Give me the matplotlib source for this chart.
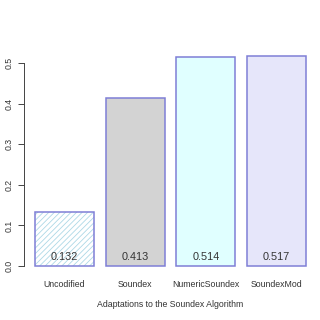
import matplotlib
matplotlib.use("Agg")
import matplotlib.pyplot as plt
import numpy as np

plt.rcParams['font.family'] = ['Liberation Sans', 'DejaVu Sans']
plt.rcParams['hatch.linewidth'] = 0.6

categories = ["Uncodified", "Soundex", "NumericSoundex", "SoundexMod"]
values = [0.132, 0.413, 0.514, 0.517]
labels = ["0.132", "0.413", "0.514", "0.517"]
fills = ["white", "#D3D3D3", "#E0FFFF", "#E6E6FA"]
hatches = ["//////", None, None, None]
yticks = [0.0, 0.1, 0.2, 0.3, 0.4, 0.5]
xlabel = "Adaptations to the Soundex Algorithm"

fig = plt.figure(figsize=(3.2, 3.2), dpi=100)
ax = fig.add_axes([0.0756, 0.1425, 0.9144, 0.7085])

x = 0.7 + 1.2 * np.arange(len(values))
edge = "#7F7FD6"
for xi, v, fc, h in zip(x, values, fills, hatches):
    if h:
        ax.bar(xi, v, width=1.0, color=fc, edgecolor="#ADD8E6", hatch=h, linewidth=0)
    else:
        ax.bar(xi, v, width=1.0, color=fc, linewidth=0)
    ax.bar(xi, v, width=1.0, fill=False, edgecolor=edge, linewidth=1.1)

for xi, lab in zip(x, labels):
    ax.text(xi, 0.022, lab, ha="center", va="center", fontsize=7.8, color="#333333")

ax.set_xlim(0.016, 4.984)
ax.set_ylim(-0.0207, 0.5377)
for s in ["top", "right", "bottom"]:
    ax.spines[s].set_visible(False)
ax.spines["left"].set_bounds(0.0, 0.5)
ax.spines["left"].set_linewidth(0.7)
ax.spines["left"].set_color("#444444")
ax.set_yticks(yticks)
ax.set_yticklabels([f"{t:.1f}" for t in yticks], rotation=90, va="center", fontsize=6.3, color="#333333")
ax.tick_params(axis="y", length=4, width=0.7, color="#444444", pad=3.5)
ax.set_xticks(x)
ax.set_xticklabels(categories, fontsize=6.3, color="#333333")
ax.tick_params(axis="x", length=0, pad=3.8)
ax.set_xlabel(xlabel, fontsize=6.3, color="#333333", labelpad=8)

fig.savefig("out.png", dpi=100)
